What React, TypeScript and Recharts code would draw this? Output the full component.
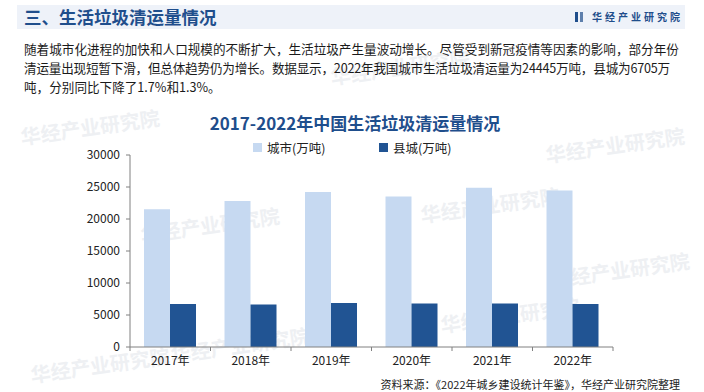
import { Bar, BarChart, XAxis, YAxis } from "recharts";

// 2017-2022 domestic waste collection volume, city vs county (万吨)
const years = ["2017年", "2018年", "2019年", "2020年", "2021年", "2022年"];
const cityVolume = [21521, 22802, 24206, 23512, 24869, 24445];
const countyVolume = [6720, 6660, 6871, 6810, 6791, 6705];
const yTicks = [0, 5000, 10000, 15000, 20000, 25000, 30000];

const CITY = "城市(万吨)";
const COUNTY = "县城(万吨)";

const data = years.map((year, i) => ({
  year,
  [CITY]: cityVolume[i],
  [COUNTY]: countyVolume[i],
}));

const LIGHT = "#c6d9f1";
const DARK = "#215493";
const TITLE_BLUE = "#1f4e8c";
const FONT = "'Noto Sans CJK SC', 'Noto Sans', sans-serif";
const BAND = 483 / years.length;

function YearTick(props: any) {
  const { x, y, payload, index } = props;
  return (
    <g>
      <line x1={x - BAND / 2} y1={y - 8} x2={x - BAND / 2} y2={y - 4} stroke="#808080" />
      {index === years.length - 1 && (
        <line x1={x + BAND / 2} y1={y - 8} x2={x + BAND / 2} y2={y - 4} stroke="#808080" />
      )}
      <text x={x} y={y + 10} textAnchor="middle" fontSize={12} fill="#222" fontFamily={FONT}>
        {payload.value}
      </text>
    </g>
  );
}

const legendItems = [
  { label: CITY, color: LIGHT, width: 126 },
  { label: COUNTY, color: DARK, width: 90 },
];

const watermarks = [
  { x: 330, y: 52 },
  { x: 20, y: 112 },
  { x: 140, y: 210 },
  { x: 420, y: 190 },
  { x: 545, y: 130 },
  { x: 170, y: 330 },
  { x: 440, y: 300 },
  { x: 550, y: 255 },
  { x: 30, y: 350 },
];

export default function App() {
  return (
    <div
      style={{
        position: "absolute",
        left: 0,
        top: 0,
        width: 704,
        height: 392,
        background: "#fff",
        overflow: "hidden",
        fontFamily: FONT,
      }}
    >
      {watermarks.map((w, i) => (
        <div
          key={i}
          style={{
            position: "absolute",
            left: w.x,
            top: w.y,
            transform: "rotate(-8deg)",
            color: "#eef0f3",
            fontSize: 20,
            fontWeight: 700,
            whiteSpace: "nowrap",
          }}
        >
          华经产业研究院
        </div>
      ))}

      {/* header band */}
      <div
        style={{
          position: "absolute",
          left: 17,
          top: 5,
          width: 668,
          height: 24,
          background: "#eef2f9",
        }}
      />
      <div
        style={{
          position: "absolute",
          left: 24,
          top: 4,
          fontSize: 17.5,
          lineHeight: "26px",
          fontWeight: 700,
          color: TITLE_BLUE,
          whiteSpace: "nowrap",
        }}
      >
        三、生活垃圾清运量情况
      </div>
      <div
        style={{
          position: "absolute",
          left: 575,
          top: 9,
          display: "flex",
          alignItems: "center",
          fontSize: 10,
          fontWeight: 700,
          color: TITLE_BLUE,
          letterSpacing: 3,
          whiteSpace: "nowrap",
        }}
      >
        <span style={{ width: 3, height: 10, background: TITLE_BLUE, marginRight: 2 }} />
        <span style={{ width: 3, height: 10, background: TITLE_BLUE, marginRight: 9, opacity: 0.7 }} />
        华经产业研究院
      </div>

      {/* body paragraph */}
      <div
        style={{
          position: "absolute",
          left: 24,
          top: 39,
          fontSize: 12.6,
          lineHeight: "19px",
          color: "#1a1a1a",
          whiteSpace: "nowrap",
        }}
      >
        <div>随着城市化进程的加快和人口规模的不断扩大，生活垃圾产生量波动增长。尽管受到新冠疫情等因素的影响，部分年份</div>
        <div style={{ letterSpacing: -0.2 }}>清运量出现短暂下滑，但总体趋势仍为增长。数据显示，2022年我国城市生活垃圾清运量为24445万吨，县城为6705万</div>
        <div>吨，分别同比下降了1.7%和1.3%。</div>
      </div>

      {/* chart title */}
      <div
        style={{
          position: "absolute",
          left: 0,
          width: 704,
          top: 110,
          textAlign: "center",
          fontSize: 17,
          fontWeight: 700,
          color: TITLE_BLUE,
          paddingLeft: 6,
          boxSizing: "border-box",
        }}
      >
        2017-2022年中国生活垃圾清运量情况
      </div>

      {/* legend */}
      <div
        style={{
          position: "absolute",
          left: 253,
          top: 138,
          display: "flex",
          fontSize: 12.5,
          color: "#222",
        }}
      >
        {legendItems.map((it) => (
          <div key={it.label} style={{ display: "flex", alignItems: "center", width: it.width }}>
            <span style={{ width: 9, height: 9, background: it.color, marginRight: 5, display: "inline-block" }} />
            {it.label}
          </div>
        ))}
      </div>

      <div style={{ position: "absolute", left: 0, top: 0 }}>
        <BarChart
          width={704}
          height={392}
          data={data}
          margin={{ top: 155, right: 91, bottom: 15, left: 70 }}
          barCategoryGap="17.4%"
          barGap={0}
        >
          <XAxis
            dataKey="year"
            axisLine={{ stroke: "#808080" }}
            tickLine={false}
            tick={<YearTick />}
            interval={0}
            height={30}
          />
          <YAxis
            domain={[0, 30000]}
            ticks={yTicks}
            width={60}
            axisLine={{ stroke: "#808080" }}
            tickLine={{ stroke: "#808080" }}
            tickSize={4}
            tickMargin={6}
            tick={{ fontSize: 12, fill: "#222", fontFamily: FONT }}
            interval={0}
          />
          <Bar dataKey={CITY} fill={LIGHT} isAnimationActive={false} />
          <Bar dataKey={COUNTY} fill={DARK} isAnimationActive={false} />
        </BarChart>
      </div>

      {/* source */}
      <div
        style={{
          position: "absolute",
          right: 24,
          top: 376,
          fontSize: 11,
          color: "#222",
          whiteSpace: "nowrap",
        }}
      >
        资料来源：《2022年城乡建设统计年鉴》，华经产业研究院整理
      </div>
    </div>
  );
}
